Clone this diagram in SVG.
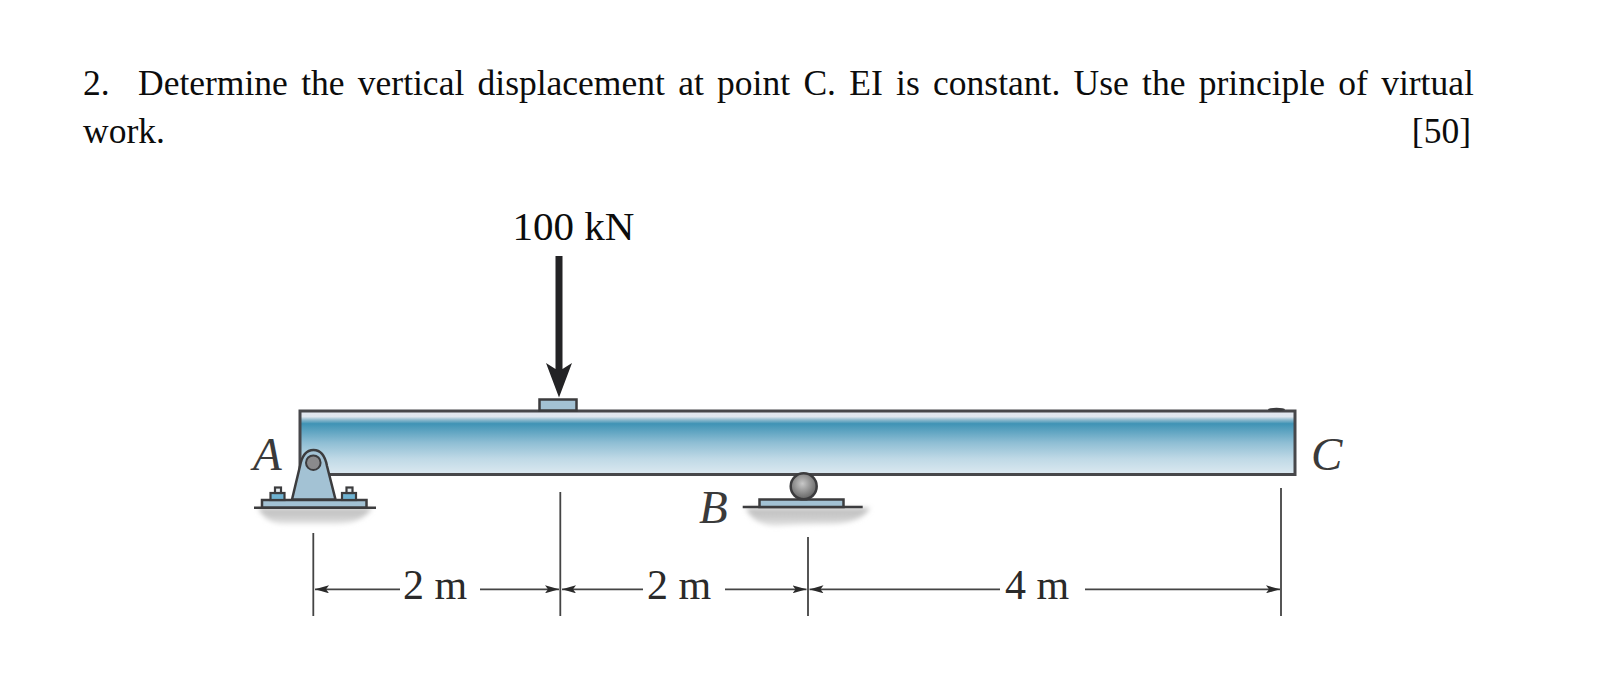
<svg xmlns="http://www.w3.org/2000/svg" width="1604" height="673" viewBox="0 0 1604 673">
<style>
.t{font-family:"Liberation Serif","Times New Roman",serif;fill:#0c0c0c}
.q{font-size:35.5px}
.l{font-size:42px;fill:#2a2a2a}
.i{font-size:47px;font-style:italic;fill:#3a3a3a}
.s{stroke:#3c3c3e;fill:none;stroke-width:2.5}
.bm{stroke:#47474a;stroke-width:3;fill:url(#beam)}
.d{stroke:#444;fill:none;stroke-width:1.8}
.p{fill:#a3c2d4;stroke:#3c3c3e;stroke-width:2.5}
.sh{fill:url(#shade);filter:url(#b)}
</style>
<defs>
<linearGradient id="beam" x1="0" y1="0" x2="0" y2="1">
<stop offset="0" stop-color="#e4e8f0"/><stop offset="0.09" stop-color="#dfe6ee"/><stop offset="0.14" stop-color="#8db9cd"/><stop offset="0.2" stop-color="#3f93b5"/><stop offset="0.5" stop-color="#8fbed4"/><stop offset="0.75" stop-color="#bfd9e6"/><stop offset="1" stop-color="#dce9f1"/>
</linearGradient>
<linearGradient id="shade" x1="0" y1="0" x2="0" y2="1"><stop offset="0" stop-color="#bcbcbc"/><stop offset="0.6" stop-color="#cfcfcf"/><stop offset="1" stop-color="#e6e6e6"/></linearGradient>
<radialGradient id="ball" cx="0.45" cy="0.4" r="0.65"><stop offset="0" stop-color="#c8c8c8"/><stop offset="1" stop-color="#5a5a5a"/></radialGradient>
<filter id="b" x="-20%" y="-50%" width="140%" height="200%"><feGaussianBlur stdDeviation="2.5"/></filter>
<marker id="ah" viewBox="0 0 14 8" refX="14" refY="4" markerWidth="14" markerHeight="8" markerUnits="userSpaceOnUse" orient="auto-start-reverse"><path d="M0 0L14 4L0 8L3 4Z" fill="#2a2a2a"/></marker>
</defs>
<g id="question">
<text class="t q" x="83" y="95">2.</text>
<text class="t q" x="138" y="95" word-spacing="4.44">Determine the vertical displacement at point C. EI is constant. Use the principle of virtual</text>
<text class="t q" x="83" y="143">work.</text>
<text class="t q" x="1471" y="143" text-anchor="end">[50]</text>
</g>
<g id="beam-node">
<rect x="300" y="411" width="995" height="63.500" class="bm"/>
<ellipse cx="1276.500" cy="409.500" rx="8.500" ry="1.800" fill="#3c3c3e"/>
</g>
<g id="load">
<text class="t" x="512.500" y="240" font-size="41">100 kN</text>
<path d="M555.500 256H562.500V369L572 363L559 397.500L546 363L555.500 369Z" fill="#232325"/>
<rect x="539.500" y="399.500" width="37" height="11" class="p"/>
</g>
<g id="support-A">
<path d="M258 508H372Q362 524 335 524H285Q266 524 258 508Z" class="sh"/>
<path d="M254 507.800H376" class="s"/>
<rect x="262" y="500" width="104.500" height="7.500" class="p"/>
<path d="M292 499.500L300 466Q303 450 313.500 450Q324 450 327 466L335.500 499.500Z" class="p"/>
<circle cx="313.300" cy="462.700" r="7.300" fill="#8a8a8c" stroke="#3c3c3e" stroke-width="2"/>
<g fill="#6fb3d2" stroke="#3c3c3e" stroke-width="2.200">
<rect x="270.500" y="493" width="14" height="7"/><rect x="342" y="493" width="14" height="7"/>
<rect x="275" y="487.500" width="6" height="5.500" fill="#e8eef2"/><rect x="346.500" y="487.500" width="6" height="5.500" fill="#e8eef2"/>
</g>
<text class="t i" x="253" y="470">A</text>
</g>
<g id="support-B">
<path d="M746 508H870Q862 522 835 524Q800 524 775 526Q752 524 746 508Z" class="sh"/>
<path d="M742.700 507H862.700" class="s"/>
<rect x="759.500" y="499.500" width="84" height="7.500" class="p"/>
<circle cx="803.700" cy="486.300" r="13" fill="url(#ball)" stroke="#3c3c3e" stroke-width="2.500"/>
<text class="t i" x="699" y="522.500">B</text>
</g>
<g id="label-C">
<text class="t i" x="1311" y="470">C</text>
</g>
<g id="connectors">
<path class="d" d="M313.300 533V616M560.300 492V616M808 537V616M1281 488V616"/>
<path class="d" d="M400 589.300H315" marker-end="url(#ah)"/>
<path class="d" d="M480 589.300H559" marker-end="url(#ah)"/>
<path class="d" d="M643 589.300H562" marker-end="url(#ah)"/>
<path class="d" d="M725 589.300H806.500" marker-end="url(#ah)"/>
<path class="d" d="M1000 589.300H809.500" marker-end="url(#ah)"/>
<path class="d" d="M1085 589.300H1280" marker-end="url(#ah)"/>
</g>
<g id="dimension-labels">
<text class="t l" x="403" y="599">2 m</text>
<text class="t l" x="647" y="599">2 m</text>
<text class="t l" x="1005" y="599">4 m</text>
</g>
</svg>
